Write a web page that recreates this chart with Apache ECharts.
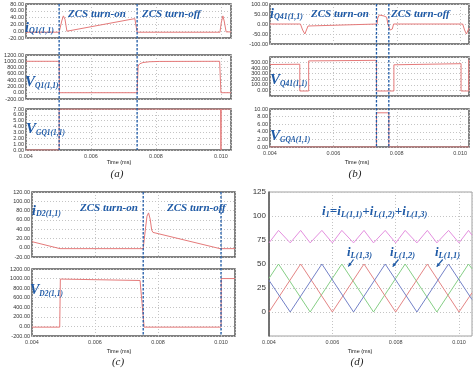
<!DOCTYPE html>
<html><head><meta charset="utf-8">
<script src="https://cdn.jsdelivr.net/npm/echarts@6/dist/echarts.min.js"></script>
<style>html,body{margin:0;padding:0;background:#fff}#c{width:474px;height:368px}</style>
</head><body><div id="c"></div>
<script>
// ---------- data (time in ms) ----------
const xTickStep = 0.002;
// panel (a)
const iQ1  = [[0.004,-3],[0.00502,-3],[0.0051,30],[0.00515,45],[0.0052,35],[0.00526,0],[0.00735,37],[0.00742,-3],[0.00997,-3],[0.01001,25],[0.01006,45],[0.0101,30],[0.01016,-2],[0.01031,-2]];
const vQ1  = [[0.004,1000],[0.00502,1000],[0.00503,0],[0.00742,0],[0.00745,850],[0.0075,920],[0.0076,960],[0.0078,985],[0.0081,995],[0.00996,1000],[0.0100,0],[0.01031,0]];
const vGQ1 = [[0.004,0],[0.00502,0],[0.00502,7],[0.00999,7],[0.0100,0],[0.01001,7],[0.01031,7]];
const zcsA = [0.00502, 0.00742];
// panel (b)
const iQ41 = [[0.004,0],[0.00496,0],[0.00503,-30],[0.0051,-50],[0.00515,-45],[0.0052,-10],[0.00522,0],[0.00738,0],[0.0074,30],[0.00745,45],[0.0075,44],[0.0076,40],[0.00768,34],[0.00772,0],[0.00776,0],[0.00779,-30],[0.00782,-40],[0.00786,-25],[0.0079,0],[0.01008,0],[0.01014,-30],[0.0102,-50],[0.01025,-40],[0.01028,-20]];
const vQ41 = [[0.004,465],[0.00494,470],[0.00494,-10],[0.00522,-10],[0.00522,530],[0.00736,540],[0.00736,-10],[0.00791,-10],[0.00791,460],[0.01003,480],[0.01003,-10],[0.01027,-10],[0.01027,550],[0.01028,550]];
const vGQA = [[0.004,0],[0.00736,0],[0.00736,9],[0.00775,9],[0.00775,0],[0.01028,0]];
const zcsB = [0.00736, 0.00775];
// panel (c)
const iD2  = [[0.004,13],[0.00489,-2],[0.00753,-2],[0.0076,40],[0.00765,68],[0.0077,75],[0.00775,62],[0.0078,38],[0.00784,33],[0.00997,-2],[0.010444,-2]];
const vD2  = [[0.004,-15],[0.00488,-15],[0.0049,990],[0.00743,960],[0.00756,-15],[0.0100,-15],[0.01001,1000],[0.010444,1000]];
const zcsC = [0.00753, 0.0100];
// panel (d)
const iLgreen = [[0.004,35],[0.0043,50],[0.0053,0],[0.0063,50],[0.0073,0],[0.0083,50],[0.0093,0],[0.0103,50],[0.01041,45]];
const iLred   = [[0.004,0],[0.005,50],[0.006,0],[0.007,50],[0.008,0],[0.009,50],[0.010,0],[0.01041,20]];
const iLblue  = [[0.004,33],[0.00467,0],[0.00567,50],[0.00667,0],[0.00767,50],[0.00867,0],[0.00967,50],[0.01041,13]];
const iSum    = [[0.004,72],[0.0043,85],[0.00467,72],[0.005,85],[0.0053,72],[0.00567,85],[0.006,72],[0.0063,85],[0.00667,72],[0.007,85],[0.0073,72],[0.00767,85],[0.008,72],[0.0083,85],[0.00867,72],[0.009,85],[0.0093,72],[0.00967,85],[0.010,72],[0.0103,85],[0.01041,80]];

// ---------- layout ----------
const RED = '#e57a7a', BLUE = '#1f5aa6';
const grids = [
  {left:26, top:4,   width:205, height:34},
  {left:26, top:55,  width:205, height:44},
  {left:26, top:109, width:205, height:41},
  {left:270, top:4,   width:199, height:40},
  {left:270, top:57,  width:199, height:39},
  {left:270, top:109, width:199, height:38},
  {left:32, top:192, width:203, height:65},
  {left:32, top:269, width:203, height:67},
  {left:269, top:192, width:203, height:144}
];
const yR = [[-20,80,20],[-200,1200,200],[0,7,1],[-100,100,50],[-100,600,100],[0,10,2],[-20,120,20],[-200,1200,200],[-25,125,25]];
const xMax = [0.01031,0.01031,0.01031,0.01028,0.01028,0.01028,0.010444,0.010444,0.01041];
const xLab = [false,false,true,false,false,true,false,true,true];
const dotted = {show:true, lineStyle:{color:'#c4c4c4', type:[1,2], width:1}};

const option = {
  animation:false,
  backgroundColor:'#fff',
  grid: grids.map((g,i)=>Object.assign({show:true, backgroundColor:'#fff',
        borderColor: i===8 ? '#a0a0a0' : '#5a5a5a', borderWidth: i===8 ? 1 : 1.5}, g)),
  xAxis: grids.map((g,i)=>({type:'value', gridIndex:i, min:0.004, max:xMax[i], interval:xTickStep,
      axisLine:{show:false}, axisTick:{show:false}, splitLine:dotted,
      axisLabel:{show:xLab[i], showMaxLabel:false, fontSize:5.5, color:'#444', margin:3,
        fontFamily:'Liberation Sans', formatter:v=>v.toFixed(3)}})),
  yAxis: grids.map((g,i)=>({type:'value', gridIndex:i, min:yR[i][0], max:yR[i][1], interval:yR[i][2],
      axisLine:{show:i===8, lineStyle:{color:'#555', width:1.5}}, axisTick:{show:false}, splitLine:dotted,
      axisLabel:{fontSize: i===8 ? 8 : 5.5, color:'#333', margin: i===8 ? 3 : 2, fontFamily:'Liberation Sans',
        formatter: v => i===8 ? (v<0 ? '' : String(v)) : v.toFixed(2)}})),
  series: []
};
const addS = (data, idx, color) => option.series.push({type:'line', data, xAxisIndex:idx, yAxisIndex:idx,
  showSymbol:false, lineStyle:{color, width:1}, itemStyle:{color}, z:3});
addS(iQ1,0,RED); addS(vQ1,1,RED); addS(vGQ1,2,RED);
addS(iQ41,3,RED); addS(vQ41,4,RED); addS(vGQA,5,RED);
addS(iD2,6,RED); addS(vD2,7,RED);
addS(iLgreen,8,'#86cf86'); addS(iLred,8,'#e48585'); addS(iLblue,8,'#7482c8'); addS(iSum,8,'#e48fdf');

const chart = echarts.init(document.getElementById('c'), null, {renderer:'canvas'});
chart.setOption(option);

// ---------- annotations ----------
const cv = document.createElement('canvas').getContext('2d');
const FF = '"Liberation Serif", "Times New Roman", serif';
function tw(t,s){ cv.font = `italic bold ${s}px ${FF}`; return cv.measureText(t).width; }
const G = [];
function txt(x,y,parts,color){
  let cx = x;
  for (const [t,s,dy] of parts){
    G.push({type:'text', x:cx, y:y+dy, z:100, style:{text:t, fontStyle:'italic', fontWeight:'bold', fontSize:s,
      fontFamily:FF, fill:color||BLUE, align:'left', verticalAlign:'middle'}});
    cx += tw(t,s);
  }
}
function plain(x,y,t,s,opts){
  G.push({type:'text', x, y, z:100, style:Object.assign({text:t, fontSize:s, fill:'#222', align:'center', verticalAlign:'middle',
    fontFamily:'Liberation Sans'}, opts||{})});
}
// vertical dashed lines through the stacked plots
function zcsLines(times, xIdx, topIdx, botIdx){
  for (const t of times){
    const x = chart.convertToPixel({xAxisIndex:xIdx}, t);
    const y1 = chart.convertToPixel({yAxisIndex:topIdx}, yR[topIdx][1]);
    const y2 = chart.convertToPixel({yAxisIndex:botIdx}, yR[botIdx][0]);
    G.push({type:'line', z:90, shape:{x1:x,y1:y1,x2:x,y2:y2}, style:{stroke:BLUE, lineWidth:1.3, lineDash:[2.5,1.5]}});
  }
}
zcsLines(zcsA,0,0,2); zcsLines(zcsB,3,3,5); zcsLines(zcsC,6,6,7);

// panel (a)
txt(25,28,[['i',14,0],['Q1(1,1)',8,3]]);
txt(68,14,[['ZCS turn-on',11,0]]);
txt(142,14,[['ZCS turn-off',11,0]]);
txt(25,82,[['V',15,0],['Q1(1,1)',7.5,4]]);
txt(26,129,[['V',15,0],['GQ1(1,1)',7.5,4]]);
// panel (b)
txt(270,14,[['i',14,0],['Q41(1,1)',8,3]]);
txt(311,14,[['ZCS turn-on',11,0]]);
txt(391,14,[['ZCS turn-off',11,0]]);
txt(270,80,[['V',15,0],['Q41(1,1)',7.5,4]]);
txt(270,136,[['V',15,0],['GQA(1,1)',7.5,4]]);
// panel (c)
txt(32,211,[['i',14,0],['D2(1,1)',8,3]]);
txt(80,208,[['ZCS turn-on',11,0]]);
txt(167,208,[['ZCS turn-off',11,0]]);
txt(30,290,[['V',14,0],['D2(1,1)',7.5,4]]);
// panel (d)
txt(322,212,[['i',13,0],['1',8.5,3],['=',13,0],['i',13,0],['L(1,1)',8.5,3],['+',13,0],['i',13,0],['L(1,2)',8.5,3],['+',13,0],['i',13,0],['L(1,3)',8.5,3]]);
txt(347,253,[['i',13,0],['L(1,3)',8.5,3]]);
txt(390,253,[['i',13,0],['L(1,2)',8.5,3]]);
txt(435,253,[['i',13,0],['L(1,1)',8.5,3]]);
function arrow(x1,y1,x2,y2){
  G.push({type:'line', z:95, shape:{x1,y1,x2,y2}, style:{stroke:BLUE, lineWidth:1.2}});
  const a = Math.atan2(y2-y1,x2-x1), L=3.5, W=1.8;
  const bx = x2 - L*Math.cos(a), by = y2 - L*Math.sin(a);
  G.push({type:'polygon', z:96, shape:{points:[[x2,y2],[bx + W*Math.sin(a), by - W*Math.cos(a)],[bx - W*Math.sin(a), by + W*Math.cos(a)]]}, style:{fill:BLUE}});
}
arrow(353.5,259.5,348.3,266.5);
arrow(398.5,259.5,392.7,266.7);
arrow(442.7,259.5,436.7,266.7);

// axis titles and captions
plain(119,162,'Time (ms)',5.5);
plain(357,162,'Time (ms)',5.5);
plain(119,351,'Time (ms)',5.5);
plain(360,351,'Time (ms)',5.5);
const cap = {fontStyle:'italic', fontFamily:FF, fill:'#222'};
plain(117,174,'(a)',11,cap);
plain(355,174,'(b)',11,cap);
plain(118,362,'(c)',11,cap);
plain(357,362,'(d)',11,cap);

chart.setOption({graphic:{elements:G}});
</script>
</body></html>
